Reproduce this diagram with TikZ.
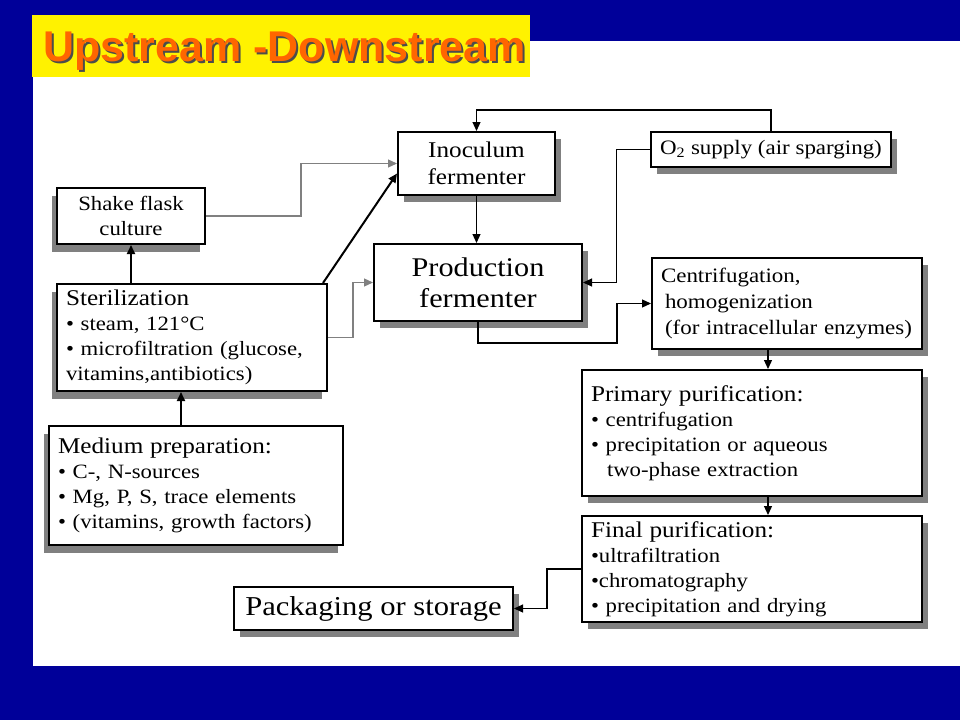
\documentclass[tikz,border=0pt]{standalone}
\usepackage{fontspec}
\setmainfont{Liberation Serif}[FakeStretch=1.12]
\newfontfamily\titlefont{Liberation Sans}
\usetikzlibrary{arrows.meta,shadows,calc,positioning}

\definecolor{slideblue}{RGB}{0,0,153}
\definecolor{titleorange}{RGB}{255,102,0}
\definecolor{shadegray}{RGB}{128,128,128}

\newcommand{\headline}{\fontsize{22.5}{25}\selectfont}

\tikzset{
  box/.style={draw, line width=2pt, fill=white, inner xsep=9pt, inner ysep=0pt,
    font=\fontsize{20.3}{25}\selectfont},
  shadeR/.style={drop shadow={shadow xshift=6pt, shadow yshift=-7pt, fill=shadegray, opacity=1}},
  shadeL/.style={drop shadow={shadow xshift=-5pt, shadow yshift=-8pt, fill=shadegray, opacity=1}},
  link/.style={-{Triangle[length=9pt,width=8pt]}, line width=1.2pt},
  fatlink/.style={link, line width=2pt},
  heading/.style={anchor=base west, inner sep=0pt, font=\titlefont\bfseries\fontsize{43}{43}\selectfont},
}

\begin{document}
\begin{tikzpicture}[x=1pt, y=-1pt]

    \useasboundingbox (0,0) rectangle (960,720);
    \fill[slideblue] (0,0) rectangle (960,720);
    \fill[white] (33,41) rectangle (960,666);
    \fill[yellow] (32,15) rectangle (530,77);

    \node[heading, text=black!70] (titleshade) at (45,63) {Upstream -Downstream};
    \node[heading, text=titleorange] (title) at (43,61) {Upstream -Downstream};

    % boxes
    \node[box, shadeR, align=center, minimum width=157pt, minimum height=63pt,
      font=\fontsize{22.5}{27}\selectfont] (inoc) at (476.5,163.5) {Inoculum\\fermenter};
    \node[box, shadeR, align=center, minimum width=238pt, minimum height=35pt,
      font=\fontsize{20.5}{25}\selectfont] (oxygen) at (771,149.5) {O\textsubscript{2} supply (air sparging)};
    \node[box, shadeL, align=center, minimum width=148pt, minimum height=56pt] (shake) at (131,216) {Shake flask\\culture};
    \node[box, shadeR, align=center, minimum width=208pt, minimum height=77pt,
      font=\fontsize{27}{31}\selectfont] (prod) at (478,282.5) {Production\\fermenter};
    \node[box, shadeR, align=left, text width=252pt, minimum height=91pt,
      font=\fontsize{20.5}{26}\selectfont] (centr) at (787,303.5)
      {Centrifugation,\\\hspace*{4pt}homogenization\\\hspace*{4pt}(for intracellular enzymes)};
    \node[box, shadeL, align=left, text width=252pt, minimum height=107pt] (steril) at (192,337.5)
      {{\headline Sterilization}\\• steam, 121°C\\• microfiltration (glucose,\\vitamins,antibiotics)};
    \node[box, shadeR, align=left, text width=322pt, minimum height=126pt] (primary) at (752,433)
      {{\headline Primary purification:}\\• centrifugation\\• precipitation or aqueous\\\hspace*{16pt}two-phase extraction};
    \node[box, shadeL, align=left, text width=276pt, minimum height=119pt] (medium) at (196,485.5)
      {{\headline Medium preparation:}\\• C-, N-sources\\• Mg, P, S, trace elements\\• (vitamins, growth factors)};
    \node[box, shadeR, align=left, text width=322pt, minimum height=106pt] (final) at (752,569)
      {{\headline Final purification:}\\•ultrafiltration\\•chromatography\\• precipitation and drying};
    \node[box, shadeR, align=center, minimum width=279pt, minimum height=43pt,
      font=\fontsize{27.3}{31}\selectfont] (pack) at (373.5,608.5) {Packaging or storage};

    % upstream arrows
    \draw[link, gray] (shake.east) -- ++(95,0) |- (inoc.west);
    \draw[fatlink] ($(steril.north east)+(-5,0)$) -- ($(inoc.west)+(0,10)$);
    \draw[fatlink] (steril.north -| shake.south) -- (shake.south);
    \draw[link, gray] (steril.east) -- ++(25,0) |- (prod.west);
    \draw[fatlink] ($(medium.north)+(-15,0)$) -- ($(steril.south)+(-11,0)$);
    \draw[link] (oxygen.north) -- ++(0,-21) -| (inoc.north);
    \draw[link] (oxygen.west) -- ++(-34,0) |- (prod.east);
    \draw[link] (inoc.south) -- (inoc.south |- prod.north);

    % downstream arrows
    \draw[link] (prod.south) -- ++(0,21) -| ($(centr.west)+(-34,0)$) -- (centr.west);
    \draw[link] ($(centr.south -| primary.north)+(16,0)$) -- ($(primary.north)+(16,0)$);
    \draw[link] ($(primary.south)+(16,0)$) -- ($(final.north)+(16,0)$);
    \draw[link] (final.west) -- ++(-34,0) |- (pack.east);

\end{tikzpicture}
\end{document}
